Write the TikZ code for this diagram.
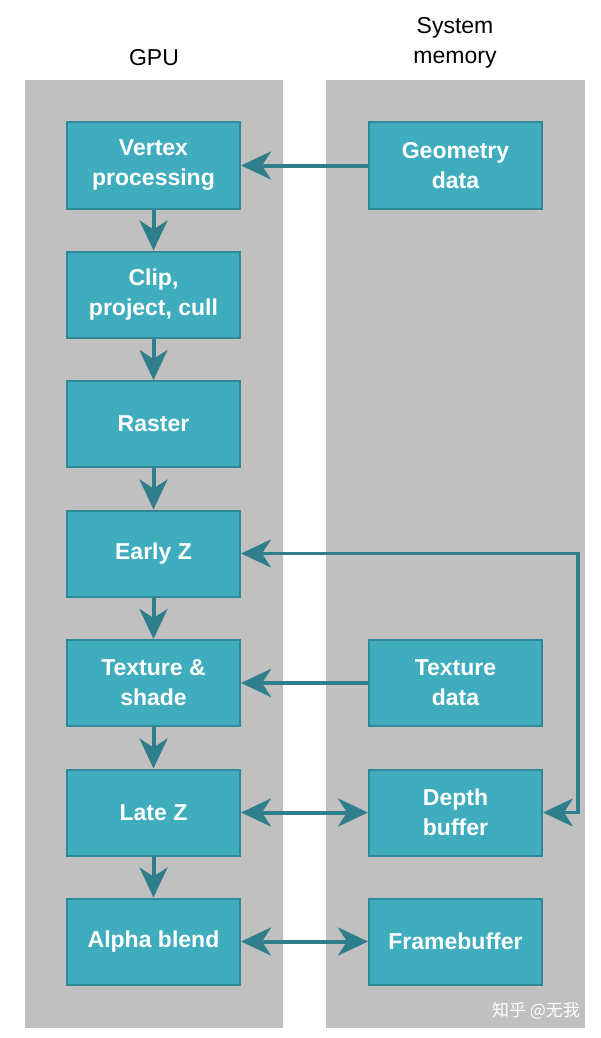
\documentclass[tikz,border=0pt]{standalone}
\usepackage{fontspec}
\setmainfont{Liberation Sans}
\newfontfamily\cjk{Noto Sans CJK SC}
\usetikzlibrary{arrows.meta}
\definecolor{colbg}{HTML}{C0C0C0}
\definecolor{boxf}{HTML}{3FADBD}
\definecolor{boxd}{HTML}{2E8A97}
\definecolor{arr}{HTML}{2E7F8B}
\begin{document}
\begin{tikzpicture}[x=1pt,y=-1pt,
  box/.style={draw=boxd,line width=2pt,fill=boxf,minimum width=173pt,minimum height=86pt,inner sep=0pt,
    text=white,font=\fontsize{23}{30}\selectfont\bfseries,align=center},
  head/.style={font=\fontsize{23}{30}\selectfont,align=center},
  ar/.style={draw=arr,line width=4pt,-{Stealth[length=30pt,width=28pt,inset=9pt]}},
  dar/.style={draw=arr,line width=4pt,{Stealth[length=30pt,width=28pt,inset=9pt]}-{Stealth[length=30pt,width=28pt,inset=9pt]}}]
\useasboundingbox (0,0) rectangle (600,1038);
\fill[colbg] (25,80) rectangle (283,1028);
\fill[colbg] (326,80) rectangle (585,1028);
\node[head] (hg) at (154,58) {GPU};
\node[head] (hs) at (455,43) {System\\memory};
\node[box] (v) at (153.5,165.5) {Vertex\\processing};
\node[box] (c) at (153.5,294.5) {Clip,\\project, cull};
\node[box] (r) at (153.5,424) {Raster};
\node[box] (e) at (153.5,553.5) {Early Z};
\node[box] (t) at (153.5,683) {Texture \&\\shade};
\node[box] (l) at (153.5,812.5) {Late Z};
\node[box] (a) at (153.5,941.5) {Alpha blend};
\node[box] (g) at (455.5,165.5) {Geometry\\data};
\node[box] (td) at (455.5,683) {Texture\\data};
\node[box] (d) at (455.5,812.5) {Depth\\buffer};
\node[box] (f) at (455.5,941.5) {Framebuffer};
\draw[ar] (v) -- (c);
\draw[ar] (c) -- (r);
\draw[ar] (r) -- (e);
\draw[ar] (e) -- (t);
\draw[ar] (t) -- (l);
\draw[ar] (l) -- (a);
\draw[ar] (g) -- (v);
\draw[ar] (td) -- (t);
\draw[dar] (l) -- (d);
\draw[dar] (a) -- (f);
\coordinate (k1) at (578,553.5);
\coordinate (k2) at (578,812.5);
\draw[dar,line width=3.5pt] (e.east) -- (k1) -- (k2) -- (d.east);
\node[text=white,font=\cjk\fontsize{17}{20}\selectfont] (w) at (536,1011) {知乎 @无我};
\end{tikzpicture}
\end{document}
